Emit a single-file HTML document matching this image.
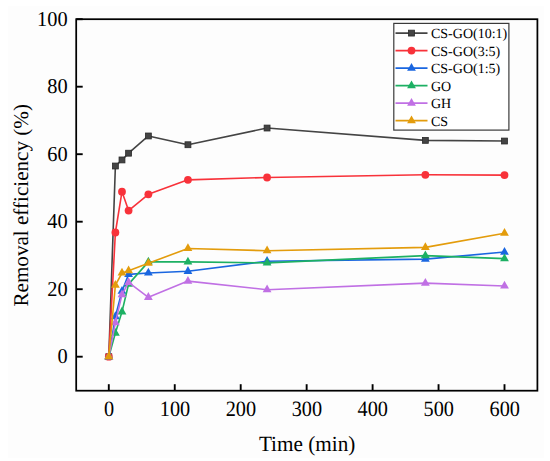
<!DOCTYPE html><html><head><meta charset="utf-8"><style>html,body{margin:0;padding:0;background:#fff;}svg{display:block;}text{font-family:"Liberation Serif",serif;fill:#000;text-rendering:geometricPrecision;}</style></head><body>
<svg width="550" height="461" viewBox="0 0 550 461">
<rect width="550" height="461" fill="#fff"/>
<rect x="8" y="6" width="536" height="452" fill="#fdfdfd"/>
<polyline points="108.80,356.70 115.39,166.01 121.99,159.94 128.59,153.19 148.37,135.97 187.94,144.75 267.08,128.04 425.36,140.36 504.50,141.04" fill="none" stroke="#444444" stroke-width="1.6" stroke-linejoin="round"/>
<rect x="105.85" y="353.75" width="5.9" height="5.9" fill="#444444" stroke="#2a2a2a" stroke-width="0.8"/>
<rect x="112.44" y="163.06" width="5.9" height="5.9" fill="#444444" stroke="#2a2a2a" stroke-width="0.8"/>
<rect x="119.04" y="156.99" width="5.9" height="5.9" fill="#444444" stroke="#2a2a2a" stroke-width="0.8"/>
<rect x="125.64" y="150.24" width="5.9" height="5.9" fill="#444444" stroke="#2a2a2a" stroke-width="0.8"/>
<rect x="145.42" y="133.02" width="5.9" height="5.9" fill="#444444" stroke="#2a2a2a" stroke-width="0.8"/>
<rect x="184.99" y="141.80" width="5.9" height="5.9" fill="#444444" stroke="#2a2a2a" stroke-width="0.8"/>
<rect x="264.13" y="125.09" width="5.9" height="5.9" fill="#444444" stroke="#2a2a2a" stroke-width="0.8"/>
<rect x="422.41" y="137.41" width="5.9" height="5.9" fill="#444444" stroke="#2a2a2a" stroke-width="0.8"/>
<rect x="501.55" y="138.09" width="5.9" height="5.9" fill="#444444" stroke="#2a2a2a" stroke-width="0.8"/>
<polyline points="108.80,356.70 115.39,232.50 121.99,191.66 128.59,210.56 148.37,194.36 187.94,179.85 267.08,177.49 425.36,174.79 504.50,175.12" fill="none" stroke="#f8323a" stroke-width="1.6" stroke-linejoin="round"/>
<circle cx="108.80" cy="356.70" r="3.9" fill="#f8323a"/>
<circle cx="115.39" cy="232.50" r="3.9" fill="#f8323a"/>
<circle cx="121.99" cy="191.66" r="3.9" fill="#f8323a"/>
<circle cx="128.59" cy="210.56" r="3.9" fill="#f8323a"/>
<circle cx="148.37" cy="194.36" r="3.9" fill="#f8323a"/>
<circle cx="187.94" cy="179.85" r="3.9" fill="#f8323a"/>
<circle cx="267.08" cy="177.49" r="3.9" fill="#f8323a"/>
<circle cx="425.36" cy="174.79" r="3.9" fill="#f8323a"/>
<circle cx="504.50" cy="175.12" r="3.9" fill="#f8323a"/>
<polyline points="108.80,356.70 115.39,316.54 121.99,291.23 128.59,274.35 148.37,273.00 187.94,271.31 267.08,261.19 425.36,259.16 504.50,252.07" fill="none" stroke="#1a66e0" stroke-width="1.6" stroke-linejoin="round"/>
<path d="M108.80 351.50L113.20 359.30L104.40 359.30Z" fill="#1a66e0"/>
<path d="M115.39 311.34L119.80 319.14L110.99 319.14Z" fill="#1a66e0"/>
<path d="M121.99 286.03L126.39 293.83L117.59 293.83Z" fill="#1a66e0"/>
<path d="M128.59 269.15L132.99 276.95L124.19 276.95Z" fill="#1a66e0"/>
<path d="M148.37 267.80L152.77 275.60L143.97 275.60Z" fill="#1a66e0"/>
<path d="M187.94 266.11L192.34 273.91L183.54 273.91Z" fill="#1a66e0"/>
<path d="M267.08 255.99L271.48 263.79L262.68 263.79Z" fill="#1a66e0"/>
<path d="M425.36 253.96L429.76 261.76L420.96 261.76Z" fill="#1a66e0"/>
<path d="M504.50 246.88L508.90 254.67L500.10 254.67Z" fill="#1a66e0"/>
<polyline points="108.80,356.70 115.39,333.07 121.99,311.81 128.59,284.14 148.37,261.86 187.94,261.86 267.08,262.88 425.36,255.62 504.50,258.66" fill="none" stroke="#1db063" stroke-width="1.6" stroke-linejoin="round"/>
<path d="M108.80 351.50L113.20 359.30L104.40 359.30Z" fill="#1db063"/>
<path d="M115.39 327.88L119.80 335.68L110.99 335.68Z" fill="#1db063"/>
<path d="M121.99 306.61L126.39 314.41L117.59 314.41Z" fill="#1db063"/>
<path d="M128.59 278.94L132.99 286.74L124.19 286.74Z" fill="#1db063"/>
<path d="M148.37 256.66L152.77 264.46L143.97 264.46Z" fill="#1db063"/>
<path d="M187.94 256.66L192.34 264.46L183.54 264.46Z" fill="#1db063"/>
<path d="M267.08 257.68L271.48 265.48L262.68 265.48Z" fill="#1db063"/>
<path d="M425.36 250.42L429.76 258.22L420.96 258.22Z" fill="#1db063"/>
<path d="M504.50 253.46L508.90 261.26L500.10 261.26Z" fill="#1db063"/>
<polyline points="108.80,356.70 115.39,322.61 121.99,294.60 128.59,282.45 148.37,297.30 187.94,281.10 267.08,289.71 425.36,283.12 504.50,285.99" fill="none" stroke="#c070e4" stroke-width="1.6" stroke-linejoin="round"/>
<path d="M108.80 351.50L113.20 359.30L104.40 359.30Z" fill="#c070e4"/>
<path d="M115.39 317.41L119.80 325.21L110.99 325.21Z" fill="#c070e4"/>
<path d="M121.99 289.40L126.39 297.20L117.59 297.20Z" fill="#c070e4"/>
<path d="M128.59 277.25L132.99 285.05L124.19 285.05Z" fill="#c070e4"/>
<path d="M148.37 292.10L152.77 299.90L143.97 299.90Z" fill="#c070e4"/>
<path d="M187.94 275.90L192.34 283.70L183.54 283.70Z" fill="#c070e4"/>
<path d="M267.08 284.51L271.48 292.31L262.68 292.31Z" fill="#c070e4"/>
<path d="M425.36 277.93L429.76 285.73L420.96 285.73Z" fill="#c070e4"/>
<path d="M504.50 280.79L508.90 288.59L500.10 288.59Z" fill="#c070e4"/>
<polyline points="108.80,356.70 115.39,285.15 121.99,273.00 128.59,270.64 148.37,263.21 187.94,248.50 267.08,250.72 425.36,247.35 504.50,233.17" fill="none" stroke="#e39c0c" stroke-width="1.6" stroke-linejoin="round"/>
<path d="M108.80 351.50L113.20 359.30L104.40 359.30Z" fill="#e39c0c"/>
<path d="M115.39 279.95L119.80 287.75L110.99 287.75Z" fill="#e39c0c"/>
<path d="M121.99 267.80L126.39 275.60L117.59 275.60Z" fill="#e39c0c"/>
<path d="M128.59 265.44L132.99 273.24L124.19 273.24Z" fill="#e39c0c"/>
<path d="M148.37 258.01L152.77 265.81L143.97 265.81Z" fill="#e39c0c"/>
<path d="M187.94 243.30L192.34 251.10L183.54 251.10Z" fill="#e39c0c"/>
<path d="M267.08 245.53L271.48 253.32L262.68 253.32Z" fill="#e39c0c"/>
<path d="M425.36 242.15L429.76 249.95L420.96 249.95Z" fill="#e39c0c"/>
<path d="M504.50 227.97L508.90 235.77L500.10 235.77Z" fill="#e39c0c"/>
<rect x="76.2" y="19.2" width="461.2" height="371.5" fill="none" stroke="#000" stroke-width="1.75"/>
<line x1="108.80" y1="390.7" x2="108.80" y2="384.2" stroke="#000" stroke-width="1.9"/>
<text transform="translate(109.00 415.9) scale(0.965 1.045)" font-size="21" text-anchor="middle">0</text>
<line x1="174.75" y1="390.7" x2="174.75" y2="384.2" stroke="#000" stroke-width="1.9"/>
<text transform="translate(174.95 415.9) scale(0.965 1.045)" font-size="21" text-anchor="middle">100</text>
<line x1="240.70" y1="390.7" x2="240.70" y2="384.2" stroke="#000" stroke-width="1.9"/>
<text transform="translate(240.90 415.9) scale(0.965 1.045)" font-size="21" text-anchor="middle">200</text>
<line x1="306.65" y1="390.7" x2="306.65" y2="384.2" stroke="#000" stroke-width="1.9"/>
<text transform="translate(306.85 415.9) scale(0.965 1.045)" font-size="21" text-anchor="middle">300</text>
<line x1="372.60" y1="390.7" x2="372.60" y2="384.2" stroke="#000" stroke-width="1.9"/>
<text transform="translate(372.80 415.9) scale(0.965 1.045)" font-size="21" text-anchor="middle">400</text>
<line x1="438.55" y1="390.7" x2="438.55" y2="384.2" stroke="#000" stroke-width="1.9"/>
<text transform="translate(438.75 415.9) scale(0.965 1.045)" font-size="21" text-anchor="middle">500</text>
<line x1="504.50" y1="390.7" x2="504.50" y2="384.2" stroke="#000" stroke-width="1.9"/>
<text transform="translate(504.70 415.9) scale(0.965 1.045)" font-size="21" text-anchor="middle">600</text>
<line x1="76.2" y1="356.70" x2="82.7" y2="356.70" stroke="#000" stroke-width="1.9"/>
<text transform="translate(67.6 363.00) scale(0.97 1.01)" font-size="21" text-anchor="end">0</text>
<line x1="76.2" y1="289.20" x2="82.7" y2="289.20" stroke="#000" stroke-width="1.9"/>
<text transform="translate(67.6 295.50) scale(0.97 1.01)" font-size="21" text-anchor="end">20</text>
<line x1="76.2" y1="221.70" x2="82.7" y2="221.70" stroke="#000" stroke-width="1.9"/>
<text transform="translate(67.6 228.00) scale(0.97 1.01)" font-size="21" text-anchor="end">40</text>
<line x1="76.2" y1="154.20" x2="82.7" y2="154.20" stroke="#000" stroke-width="1.9"/>
<text transform="translate(67.6 160.50) scale(0.97 1.01)" font-size="21" text-anchor="end">60</text>
<line x1="76.2" y1="86.70" x2="82.7" y2="86.70" stroke="#000" stroke-width="1.9"/>
<text transform="translate(67.6 93.00) scale(0.97 1.01)" font-size="21" text-anchor="end">80</text>
<line x1="76.2" y1="19.20" x2="82.7" y2="19.20" stroke="#000" stroke-width="1.9"/>
<text transform="translate(67.6 25.50) scale(0.97 1.01)" font-size="21" text-anchor="end">100</text>
<text transform="translate(307.1 450.7) scale(1.01 1.03)" font-size="21" text-anchor="middle">Time (min)</text>
<text transform="translate(28.2 205.3) rotate(-90) scale(1.006 1)" x="0" y="0" font-size="21" text-anchor="middle">Removal efficiency (%)</text>
<rect x="393.8" y="23.4" width="115.1" height="106.7" fill="#fff" stroke="#3a3a3a" stroke-width="1.2"/>
<line x1="395.5" y1="33.10" x2="427.5" y2="33.10" stroke="#444444" stroke-width="1.6"/>
<rect x="408.55" y="30.15" width="5.9" height="5.9" fill="#444444" stroke="#2a2a2a" stroke-width="0.8"/>
<text x="431" y="38.40" font-size="14">CS-GO(10:1)</text>
<line x1="395.5" y1="50.60" x2="427.5" y2="50.60" stroke="#f8323a" stroke-width="1.6"/>
<circle cx="411.50" cy="50.60" r="3.9" fill="#f8323a"/>
<text x="431" y="55.90" font-size="14">CS-GO(3:5)</text>
<line x1="395.5" y1="68.10" x2="427.5" y2="68.10" stroke="#1a66e0" stroke-width="1.6"/>
<path d="M411.50 62.90L415.90 70.70L407.10 70.70Z" fill="#1a66e0"/>
<text x="431" y="73.40" font-size="14">CS-GO(1:5)</text>
<line x1="395.5" y1="85.60" x2="427.5" y2="85.60" stroke="#1db063" stroke-width="1.6"/>
<path d="M411.50 80.40L415.90 88.20L407.10 88.20Z" fill="#1db063"/>
<text x="431" y="90.90" font-size="14">GO</text>
<line x1="395.5" y1="103.10" x2="427.5" y2="103.10" stroke="#c070e4" stroke-width="1.6"/>
<path d="M411.50 97.90L415.90 105.70L407.10 105.70Z" fill="#c070e4"/>
<text x="431" y="108.40" font-size="14">GH</text>
<line x1="395.5" y1="120.60" x2="427.5" y2="120.60" stroke="#e39c0c" stroke-width="1.6"/>
<path d="M411.50 115.40L415.90 123.20L407.10 123.20Z" fill="#e39c0c"/>
<text x="431" y="125.90" font-size="14">CS</text>
</svg></body></html>
